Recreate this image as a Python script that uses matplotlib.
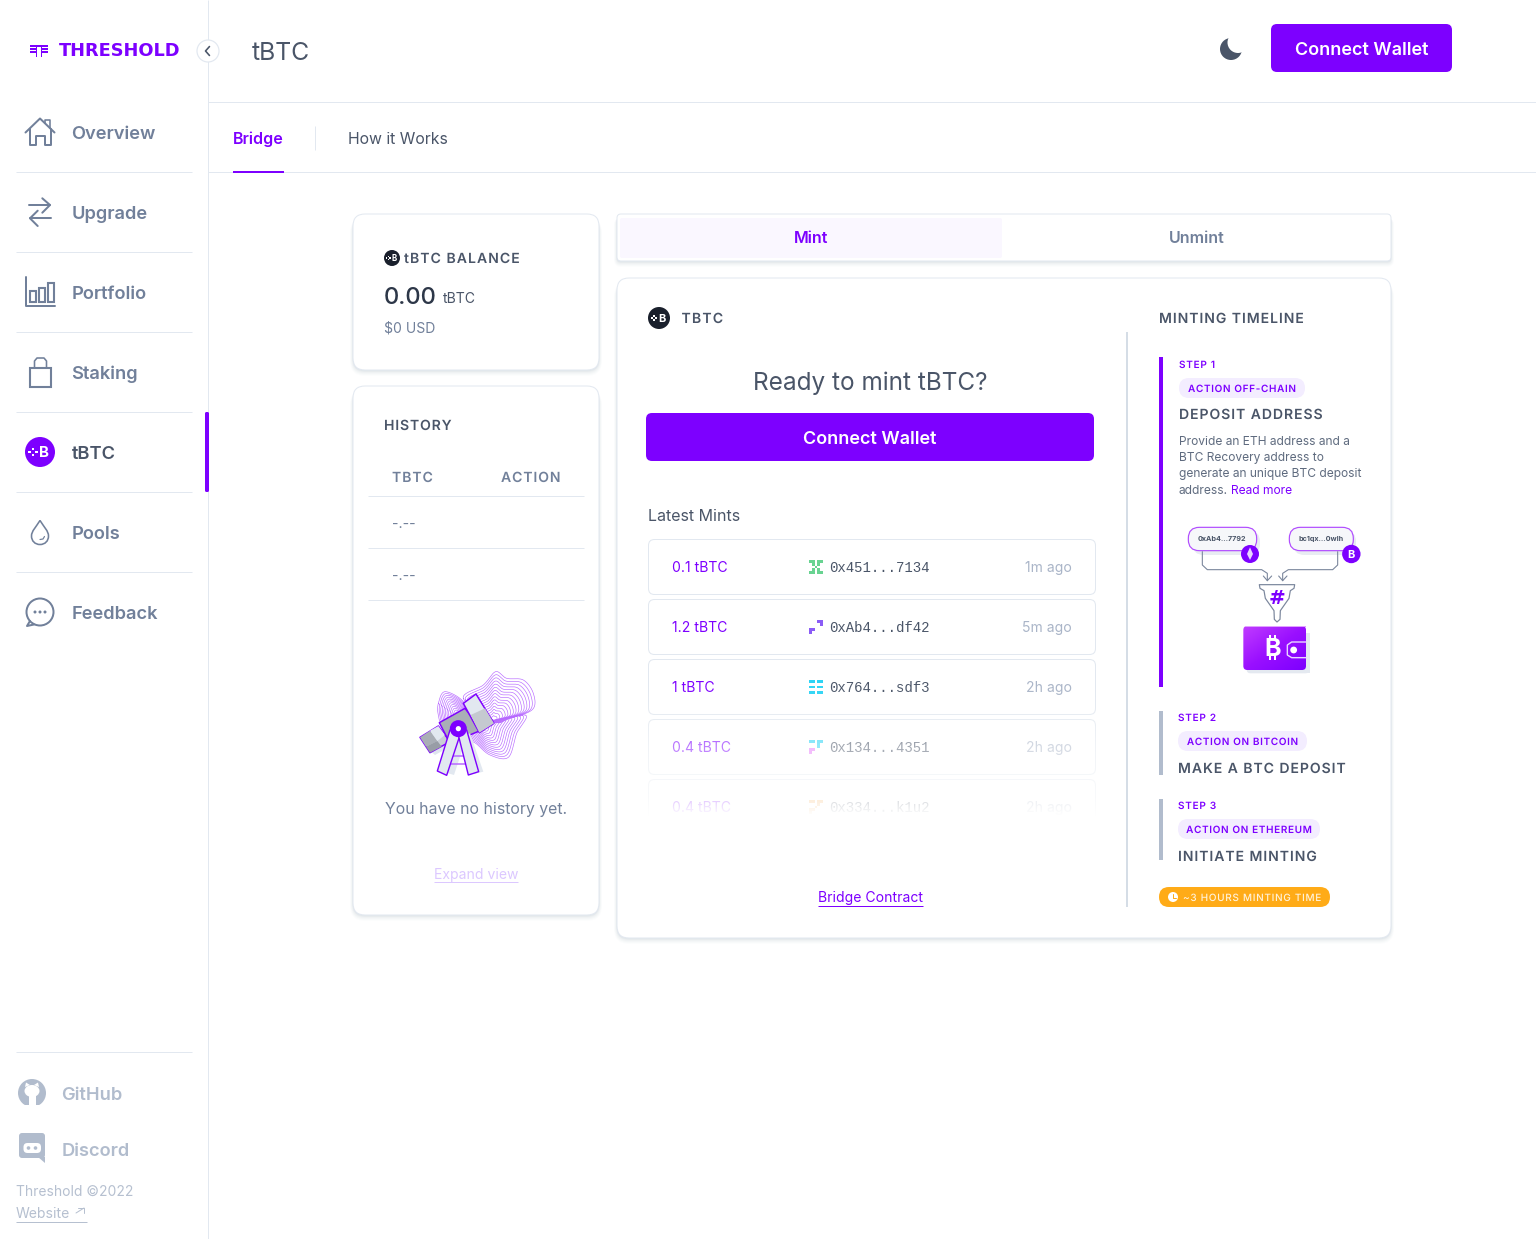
import numpy as np
import matplotlib
matplotlib.use("Agg")
import matplotlib.pyplot as plt
from matplotlib.colors import to_rgba
from matplotlib.font_manager import findfont, get_font
from matplotlib.ft2font import LoadFlags
from matplotlib.patches import FancyBboxPatch, Circle, Ellipse, Polygon, PathPatch, Rectangle
from matplotlib.path import Path
from matplotlib.text import Text
from matplotlib.textpath import TextPath
from matplotlib.transforms import Affine2D, Bbox
from matplotlib.colors import LinearSegmentedColormap

# page content
NAV_LABELS = ["Overview", "Upgrade", "Portfolio", "Staking", "tBTC", "Pools", "Feedback"]
TABS = ["Bridge", "How it Works"]
MINT_AMOUNTS = ["0.1 tBTC", "1.2 tBTC", "1 tBTC", "0.4 tBTC", "0.4 tBTC"]
MINT_ADDRESSES = ["0x451...7134", "0xAb4...df42", "0x764...sdf3", "0x134...4351", "0x334...k1u2"]
MINT_TIMES = ["1m ago", "5m ago", "2h ago", "2h ago", "2h ago"]
STEP_NAMES = ["STEP 1", "STEP 2", "STEP 3"]
STEP_ACTIONS = ["ACTION OFF-CHAIN", "ACTION ON BITCOIN", "ACTION ON ETHEREUM"]
STEP_TITLES = ["DEPOSIT ADDRESS", "MAKE A BTC DEPOSIT", "INITIATE MINTING"]
STEP_TEXT = ["Provide an ETH address and a", "BTC Recovery address to",
             "generate an unique BTC deposit", "address."]
IDENTICONS = [
    ["11.11", ".1.1.", "..1..", ".1.1.", "11.11"],
    ["...11", "....1", ".....", "11...", "1...."],
    ["11.11", ".....", "11.11", ".....", "11.11"],
    ["11.11", "...1.", "...1.", "22...", "2...."],
    ["11.11", "...1.", "..1..", "11...", "1...."],
]
IDENTICON_COLORS = [("#68d391", None), ("#8b5cf6", None), ("#2dd4f5", None),
                    ("#2dd4f5", "#e879f9"), ("#f6ad55", None)]

PURPLE = "#7d00ff"
BORDER = "#e2e8f0"
GRAY_800 = "#2d3748"
GRAY_700 = "#4a5568"
GRAY_500 = "#71809a"
GRAY_300 = "#b1bccd"
PILL = "#f3edff"

fig = plt.figure(figsize=(15.36, 12.39), dpi=100, facecolor="white")
ax = fig.add_axes([0, 0, 1, 1])
ax.set_xlim(0, 1536)
ax.set_ylim(1239, 0)
ax.axis("off")

z = [1]


def nz():
    z[0] += 1
    return z[0]


class SpacedText(Text):
    # one text artist with css style letter spacing, matplotlib has no option for it.
    # glyphs go through paths since agg rounds text positions to whole pixels
    def __init__(self, *args, spacing=0.0, **kwargs):
        super().__init__(*args, **kwargs)
        self.spacing = spacing

    def _advances(self):
        font = get_font(findfont(self.get_fontproperties()))
        font.set_size(self.get_fontsize(), self.get_figure().dpi)
        return [font.load_char(ord(c), flags=LoadFlags.NO_HINTING).linearHoriAdvance / 65536 + self.spacing
                for c in self.get_text()]

    def _start(self, total):
        x, _ = self.get_transform().transform((self._x, self._y))
        return x - total / 2 if self.get_ha() == "center" else x

    def draw(self, renderer):
        if not self.get_visible():
            return
        adv = self._advances()
        x = self._start(sum(adv) - self.spacing)
        _, y = self.get_transform().transform((self._x, self._y))
        scale = self.get_figure().dpi / 72
        gc = renderer.new_gc()
        gc.set_linewidth(0)
        gc.set_antialiased(True)
        gc.set_snap(False)
        face = to_rgba(self.get_color())
        for ch, a in zip(self.get_text(), adv):
            if ch != " ":
                glyph = TextPath((0, 0), ch, size=self.get_fontsize(), prop=self.get_fontproperties())
                renderer.draw_path(gc, glyph, Affine2D().scale(scale).translate(x, y), face)
            x += a
        gc.restore()

    def get_window_extent(self, renderer=None, dpi=None):
        box = super().get_window_extent(renderer, dpi)
        total = sum(self._advances()) - self.spacing
        x0 = self._start(total)
        return Bbox([[x0, box.y0], [x0 + total, box.y1]])


def txt(x, y, s, size=14, color=GRAY_700, weight="normal", ha="left", family="Inter", spacing=0.0):
    # size is in css pixels, y is the baseline
    kw = dict(fontsize=size * 0.72, color=color, fontweight=weight, ha=ha, va="baseline",
              family=family, zorder=nz())
    if spacing:
        return ax.add_artist(SpacedText(x, y, s, spacing=spacing, **kw))
    return ax.text(x, y, s, **kw)


def line(xs, ys, color=BORDER, lw=1.0, cap="round", join="round"):
    ax.plot(xs, ys, color=color, lw=lw * 0.72, solid_capstyle=cap, solid_joinstyle=join, zorder=nz())


def rbox(x0, y0, x1, y1, r=4, fc="white", ec="none", lw=1.0):
    p = FancyBboxPatch((x0, y0), x1 - x0, y1 - y0, boxstyle=f"round,pad=0,rounding_size={r}",
                       fc=fc, ec=ec, lw=lw * 0.72, zorder=nz())
    ax.add_patch(p)
    return p


def rect(x0, y0, x1, y1, fc):
    ax.add_patch(Rectangle((x0, y0), x1 - x0, y1 - y0, fc=fc, ec="none", lw=0, zorder=nz()))


def circ(x, y, r, fc="none", ec="none", lw=1.0):
    ax.add_patch(Circle((x, y), r, fc=fc, ec=ec, lw=lw * 0.72, zorder=nz()))


def poly(pts, fc="none", ec="none", lw=1.0):
    ax.add_patch(Polygon(pts, closed=True, fc=fc, ec=ec, lw=lw * 0.72, joinstyle="round", zorder=nz()))


def card(x0, y0, x1, y1, r=12):
    # soft drop shadow mostly below the card
    for grow, a in [(5.0, 0.025), (4.0, 0.035), (3.0, 0.045), (2.0, 0.055), (1.0, 0.07), (0.3, 0.08)]:
        ax.add_patch(FancyBboxPatch((x0 - grow * 0.6, y0 + 4), x1 - x0 + 1.2 * grow, y1 - y0 - 3 + grow,
                                    boxstyle=f"round,pad=0,rounding_size={r + grow * 0.6}",
                                    fc="#a0aec0", ec="none", alpha=a, zorder=nz()))
    rbox(x0, y0, x1, y1, r=r, fc="white", ec=BORDER, lw=1.0)


def bezier_patch(verts, codes, fc="none", ec="none", lw=1.0):
    ax.add_patch(PathPatch(Path(verts, codes), fc=fc, ec=ec, lw=lw * 0.72, zorder=nz()))


def btc_badge(x, y, r, fc, size, dots=True):
    circ(x, y, r, fc=fc)
    if dots:
        txt(x + r * 0.3, y + size * 0.36, "B", size=size, color="white", weight="bold", ha="center")
        s = r * 0.09
        for dx, dy in [(-0.68, 0), (-0.46, -0.2), (-0.46, 0.2), (-0.24, 0)]:
            rect(x + dx * r - s, y + dy * r - s, x + dx * r + s, y + dy * r + s, "white")
    else:
        txt(x, y + size * 0.36, "B", size=size, color="white", weight="bold", ha="center")


def identicon(x, y, grid, colors, cell=2.8):
    for j, row in enumerate(grid):
        for i, c in enumerate(row):
            if c != ".":
                rect(x + i * cell, y + j * cell, x + (i + 1) * cell, y + (j + 1) * cell, colors[int(c) - 1])


def closed_curve(pts, n=24):
    # catmull-rom through a hand placed outline
    pts = np.array(pts, dtype=float)
    out = []
    m = len(pts)
    for i in range(m):
        p0, p1, p2, p3 = pts[i - 1], pts[i], pts[(i + 1) % m], pts[(i + 2) % m]
        for t in np.linspace(0, 1, n, endpoint=False):
            out.append(0.5 * (2 * p1 + (p2 - p0) * t + (2 * p0 - 5 * p1 + 4 * p2 - p3) * t ** 2
                              + (3 * p1 - p0 - 3 * p2 + p3) * t ** 3))
    out.append(out[0])
    return np.array(out)


# ---- frame lines
line([208, 208], [0, 1239], cap="butt")
line([208, 1536], [102, 102], cap="butt")
line([208, 1536], [172, 172], cap="butt")

# ---- logo
for yy in (45, 48, 51):
    rect(30, yy, 37, yy + 1.6, PURPLE)
    rect(42, yy, 48, yy + 1.6, PURPLE)
rect(35.5, 45, 37, 57, PURPLE)
rect(40.5, 45, 42, 57, PURPLE)
rect(37, 45, 40.5, 47, PURPLE)
txt(59, 56, "THRESHOLD", size=17.8, color=PURPLE, weight="bold", family="DejaVu Sans")

# collapse button
circ(208, 51, 11, fc="white", ec=BORDER, lw=1.2)
line([209.5, 205.5, 209.5], [46.5, 51, 55.5], color=GRAY_700, lw=1.6)

# ---- sidebar nav
for i, label in enumerate(NAV_LABELS):
    active = label == "tBTC"
    txt(71.5, 139 + 80 * i, label, size=18.3, color=GRAY_700 if active else GRAY_500, weight="semibold")
    if i < len(NAV_LABELS) - 1:
        line([16, 192], [172 + 80 * i] * 2, cap="butt")
rbox(205, 412, 209, 492, r=1.5, fc=PURPLE)

# house
ic = GRAY_500
line([25.5, 40, 54.5], [132.5, 118.5, 132.5], color=ic, lw=2)
line([29.5, 29.5, 36, 36, 44.5, 44.5, 51, 51], [129, 145, 145, 135.5, 135.5, 145, 145, 129], color=ic, lw=2)
line([45, 45, 49.5, 49.5], [123, 119.5, 119.5, 128], color=ic, lw=1.6)
# arrows
line([29, 50], [205, 205], color=ic, lw=2)
line([42.3, 50, 42.3], [198.3, 205, 212.7], color=ic, lw=2)
line([30, 51], [218.3, 218.3], color=ic, lw=2)
line([37.7, 30, 37.7], [210.7, 218.3, 226], color=ic, lw=2)
# bars
line([25.5, 25.5, 55], [277, 306, 306], color=ic, lw=2)
for x0, y0 in [(29.5, 291), (38.5, 288), (47.5, 283)]:
    ax.add_patch(Rectangle((x0, y0), 6, 302 - y0, fc="none", ec=ic, lw=1.5, zorder=nz()))
# lock
ax.add_patch(Rectangle((30, 368), 21, 19, fc="none", ec=ic, lw=1.5, zorder=nz()))
line([34.5, 34.5, 37, 44, 46.5, 46.5], [368, 361, 358, 358, 361, 368], color=ic, lw=1.6)
# tbtc badge
btc_badge(40, 452, 15, PURPLE, 15)
# drop
bezier_patch([(40, 520.5), (36, 527), (31.5, 531), (31.5, 536), (31.5, 541), (35, 544.5), (40, 544.5),
              (45, 544.5), (48.5, 541), (48.5, 536), (48.5, 531), (44, 527), (40, 520.5)],
             [Path.MOVETO] + [Path.CURVE4] * 12, ec=ic, lw=1.6)
line([40, 43, 44.5], [539.5, 539, 536.5], color=ic, lw=1.2)
# chat bubble
circ(40, 612, 13.5, fc="white", ec=ic, lw=2)
line([30, 27, 34], [621, 626, 624.5], color=ic, lw=2)
for dx_ in (-5, 0, 5):
    circ(40 + dx_, 612, 1.5, fc=ic)

# ---- sidebar footer
line([16, 192], [1052, 1052], cap="butt")
txt(61.5, 1100, "GitHub", size=18.3, color=GRAY_300, weight="semibold")
txt(62, 1156, "Discord", size=18.3, color=GRAY_300, weight="semibold")
circ(32, 1093, 14, fc=GRAY_300)
ax.add_patch(Ellipse((32, 1091), 15, 12, fc="white", ec="none", zorder=nz()))
poly([(25, 1087), (26, 1082.5), (30, 1085)], fc="white")
poly([(39, 1087), (38, 1082.5), (34, 1085)], fc="white")
rect(28.5, 1095, 35.5, 1107, "white")
rect(18, 1105, 46, 1108, "white")
rbox(19, 1133, 45, 1158, r=3, fc=GRAY_300)
poly([(38, 1157), (45, 1157), (45, 1163)], fc=GRAY_300)
rbox(23.5, 1143, 41, 1153, r=4, fc="white")
circ(28.5, 1148, 1.8, fc=GRAY_300)
circ(35.5, 1148, 1.8, fc=GRAY_300)
txt(16, 1196, "Threshold ©2022", size=13.9, color="#b6c0d0")
txt(16, 1218, "Website", size=14, color="#b6c0d0")
line([76, 84], [1213, 1208], color="#b6c0d0", lw=1)
line([78, 84, 84], [1208, 1208, 1213], color="#b6c0d0", lw=1)
line([16, 87], [1221.5, 1221.5], color="#b6c0d0", lw=1, cap="butt")

# ---- header
txt(252, 59.5, "tBTC", size=24.8, color=GRAY_700)
circ(1231, 49, 11, fc=GRAY_700)
circ(1238, 42.5, 10.5, fc="white")
rbox(1271, 24, 1452, 72, r=6, fc=PURPLE)
txt(1361.5, 55, "Connect Wallet", size=18, color="white", weight="semibold", ha="center")

# ---- tabs
txt(233, 144, TABS[0], size=16, color=PURPLE, weight="semibold")
txt(348, 144, TABS[1], size=15.8, color=GRAY_700)
line([315, 315], [126, 150], cap="butt")
rect(233, 171, 284, 173, PURPLE)

# ---- balance card
card(353, 214, 599, 370)
btc_badge(392, 258, 8, "#1a202c", 8)
txt(404, 263, "tBTC BALANCE", size=14, weight="semibold", spacing=1.05)
txt(384, 304, "0.00", size=23.8, color=GRAY_800, weight="medium")
txt(443, 303, "tBTC", size=14, color=GRAY_700)
txt(384, 333, "$0 USD", size=14, color=GRAY_500)

# ---- history card
card(353, 386, 599, 915)
txt(384, 430, "HISTORY", size=14, weight="semibold", spacing=0.85)
txt(392, 482, "TBTC", size=14, weight="semibold", color=GRAY_500, spacing=0.95)
txt(501, 482, "ACTION", size=14, weight="semibold", color=GRAY_500, spacing=0.9)
for yy in (496, 548, 600):
    line([368, 584], [yy, yy], cap="butt")
txt(392, 528, "-.--", size=14, color=GRAY_500)
txt(392, 580, "-.--", size=14, color=GRAY_500)


# telescope illustration, drawn in the coordinates of a 3x crop
def zx(v):
    return 350 + v / 3


def zy(v):
    return 640 + v / 3


def zp(pts):
    return [(zx(a), zy(b)) for a, b in pts]


waves = [
    ([(340, 175), (400, 135), (437, 95), (470, 115), (520, 120), (550, 160), (548, 208), (480, 235), (430, 245)],
     (430, 240)),
    ([(525, 225), (500, 280), (475, 352), (420, 345), (380, 312), (352, 290), (400, 255)], (395, 250)),
    ([(265, 190), (285, 155), (340, 185), (350, 240), (280, 250), (265, 225)], (335, 240)),
]
for outline, center in waves:
    curve = closed_curve(outline)
    center = np.array(center, dtype=float)
    for k in np.arange(1.0, 0.08, -0.065):
        pts = center + (curve - center) * k
        ax.plot(zx(pts[:, 0]), zy(pts[:, 1]), color="#b768ff", lw=0.45, zorder=nz())

poly(zp([(225, 320), (255, 345), (300, 320), (270, 285)]), fc="#dfe5ee")
poly(zp([(210, 292), (265, 258), (300, 305), (240, 338)]), fc="#c9ced6", ec=PURPLE, lw=1.5)
poly(zp([(210, 292), (240, 272), (262, 303), (228, 320)]), fc="#a9aeb6")
poly(zp([(228, 320), (262, 303), (275, 320), (240, 338)]), fc="#989da6")
poly(zp([(240, 272), (265, 258), (285, 285), (262, 303)]), fc="#e2e8f0")
poly(zp([(268, 248), (345, 205), (395, 270), (300, 310)]), fc="#a9aeb6", ec=PURPLE, lw=1.5)
poly(zp([(340, 190), (378, 162), (432, 250), (388, 278)]), fc="#e2e8f0", ec=PURPLE, lw=1.5)
poly(zp([(362, 225), (405, 205), (432, 250), (388, 278)]), fc="#c5c9d0")
poly(zp([(278, 395), (312, 405), (350, 290), (320, 280)]), fc="#e2e8f0")
poly(zp([(372, 402), (400, 395), (360, 280), (340, 285)]), fc="#e2e8f0")
line([zx(300), zx(350)], [zy(348), zy(348)], color="#b768ff", lw=1.5)
line([zx(300), zx(352)], [zy(372), zy(372)], color="#b768ff", lw=1.5)
poly(zp([(300, 270), (262, 393), (290, 406), (330, 285)]), fc="#e2e8f0", ec=PURPLE, lw=1.4)
poly(zp([(325, 285), (355, 405), (386, 395), (350, 270)]), fc="#e2e8f0", ec=PURPLE, lw=1.4)
circ(zx(325), zy(266), 8.5, fc=PURPLE)
circ(zx(325), zy(266), 2.6, fc="white")

txt(476, 814, "You have no history yet.", size=15.9, color=GRAY_500, ha="center")
txt(476, 879, "Expand view", size=14, color="#dcc8ff", ha="center")
line([434, 518], [882, 882], color="#dcc8ff", lw=1, cap="butt")

# ---- mint / unmint tabs
card(617, 214, 1391, 261, r=4)
rbox(620, 218, 1002, 258, r=2, fc="#faf7ff")
txt(811, 243, "Mint", size=16, color=PURPLE, weight="semibold", ha="center")
txt(1197, 243, "Unmint", size=16, color=GRAY_500, weight="semibold", ha="center")

# ---- main card
card(617, 278, 1391, 938)
btc_badge(659, 318, 11, "#1a202c", 11)
txt(681.5, 323, "TBTC", size=14, weight="semibold", spacing=1.2)
txt(870, 390, "Ready to mint tBTC?", size=24.3, ha="center")
rbox(646, 413, 1094, 461, r=6, fc=PURPLE)
txt(870, 444, "Connect Wallet", size=18, color="white", weight="semibold", ha="center")
txt(648, 521, "Latest Mints", size=16)

# mint rows, the fade comes from the white gradient on top
for i in range(len(MINT_AMOUNTS)):
    top = 539.5 + 60 * i
    rbox(648.5, top, 1095.5, top + 55, r=6, fc="white", ec=BORDER, lw=1.0)
    txt(672, top + 32.5, MINT_AMOUNTS[i], size=14, color=PURPLE)
    colors = [c for c in IDENTICON_COLORS[i] if c]
    identicon(809, top + 20.5, IDENTICONS[i], colors)
    txt(829.4, top + 32, MINT_ADDRESSES[i], size=14, color=GRAY_700, family="Liberation Mono")
    txt(1072, top + 32.5, MINT_TIMES[i], size=14, color="#aab5c8", ha="right")

fade_levels = np.array([0.0, 0.1, 0.5, 0.8, 1.0, 1.0])
fade_stops = np.array([0.0, 0.15, 0.42, 0.75, 0.85, 1.0])
fade = LinearSegmentedColormap.from_list(
    "fade", [(s, (1, 1, 1, a)) for s, a in zip(fade_stops, fade_levels)])
ax.imshow(np.linspace(0, 1, 256).reshape(-1, 1), extent=(640, 1105, 840, 680), cmap=fade,
          aspect="auto", zorder=nz(), interpolation="bilinear")
ax.set_xlim(0, 1536)
ax.set_ylim(1239, 0)

txt(870, 902, "Bridge Contract", size=14, color=PURPLE, ha="center")
line([818, 922.5], [905.5, 905.5], color=PURPLE, lw=1, cap="butt")
line([1127, 1127], [332, 907], color="#cbd5e0", lw=1.6, cap="butt")

# ---- timeline
txt(1159, 323, "MINTING TIMELINE", size=14, weight="semibold", spacing=0.95)
rect(1159, 357, 1163, 687, PURPLE)
rect(1159, 711, 1163, 775, GRAY_300)
rect(1159, 799, 1163, 860, GRAY_300)

step_x = [1179, 1178, 1178]
step_base = [368, 721, 809]
pill_end = [1305, 1307, 1320]
title_base = [419, 773, 861]
for i in range(3):
    b = step_base[i]
    txt(step_x[i], b, STEP_NAMES[i], size=10, color=PURPLE, weight="semibold", spacing=0.75)
    rbox(step_x[i], b + 10, pill_end[i], b + 30, r=10, fc=PILL)
    txt((step_x[i] + pill_end[i]) / 2, b + 24, STEP_ACTIONS[i], size=10, color=PURPLE,
        weight="semibold", ha="center", spacing=0.65)
    txt(step_x[i], title_base[i], STEP_TITLES[i], size=14, weight="semibold", spacing=0.95)

for i, s in enumerate(STEP_TEXT):
    txt(1178.7, 445 + 16.2 * i, s, size=12, color="#5f6b7f")
txt(1231, 494, "Read more", size=12, color=PURPLE)


# deposit diagram, also from a 3x crop
def dx(v):
    return 1150 + v / 3


def dy(v):
    return 340 + v / 3


# pills
rbox(dx(128), dy(572), dx(330), dy(645), r=11, fc="#e8ecf2")
rbox(dx(430), dy(572), dx(618), dy(645), r=11, fc="#e8ecf2")
rbox(dx(115), dy(562), dx(320), dy(632), r=11, fc="#f6f7fa", ec="#b14dff", lw=1.2)
rbox(dx(418), dy(562), dx(610), dy(632), r=11, fc="#f6f7fa", ec="#b14dff", lw=1.2)
txt(dx(217), dy(604), "0xAb4...7792", size=7.2, color=GRAY_700, weight="bold", ha="center")
txt(dx(514), dy(604), "bc1qx...0wlh", size=7.2, color=GRAY_700, weight="bold", ha="center")
circ(dx(300), dy(642), 9, fc=PURPLE)
poly([(dx(300), dy(622)), (dx(309), dy(642)), (dx(300), dy(660)), (dx(291), dy(642))], fc="#e9d5ff")
btc_badge(dx(604), dy(642), 9.2, PURPLE, 11, dots=False)
# connectors
lc = "#7a869c"
line([dx(157), dx(157), dx(172), dx(335), dx(352), dx(352)],
     [dy(635), dy(675), dy(689), dy(689), dy(700), dy(722)], color=lc, lw=1.1)
line([dx(563), dx(563), dx(548), dx(415), dx(398), dx(398)],
     [dy(635), dy(675), dy(689), dy(689), dy(700), dy(722)], color=lc, lw=1.1)
line([dx(340), dx(352), dx(365)], [dy(708), dy(722), dy(708)], color=lc, lw=1.1)
line([dx(386), dx(398), dx(411)], [dy(708), dy(722), dy(708)], color=lc, lw=1.1)
# funnel with a flat rim and curved shoulders
poly([(dx(328), dy(734)), (dx(434), dy(734)), (dx(432), dy(745)), (dx(421), dy(752)), (dx(417), dy(775)),
      (dx(391), dy(812)), (dx(390), dy(838)), (dx(381), dy(846)), (dx(373), dy(838)), (dx(372), dy(812)),
      (dx(346), dy(775)), (dx(342), dy(752)), (dx(330), dy(745))],
     fc="white", ec=lc, lw=1.2)
txt(dx(381), dy(792), "#", size=20, color=PURPLE, weight="bold", ha="center", family="DejaVu Sans")
# wallet
rect(dx(468), dy(880), dx(480), dy(1000), "#e4e9f0")
rbox(dx(290), dy(960), dx(478), dy(1000), r=4, fc="#e4e9f0")
clip = rbox(dx(280), dy(858), dx(468), dy(990), r=4, fc="none")
grad = LinearSegmentedColormap.from_list("wallet", ["#c03cff", "#9a10ff", PURPLE])
u, v = np.meshgrid(np.linspace(0, 1, 64), np.linspace(0, 1, 64))
im = ax.imshow((u + v) / 2, extent=(dx(280), dx(468), dy(990), dy(858)), cmap=grad,
               aspect="auto", zorder=nz())
im.set_clip_path(clip)
ax.set_xlim(0, 1536)
ax.set_ylim(1239, 0)
rect(dx(284), dy(859), dx(468), dy(862), "#e0a0ff")
txt(dx(369), dy(949), "B", size=25, color="white", weight="bold", ha="center")
for xb in (358, 373):
    rect(dx(xb), dy(886), dx(xb + 5), dy(900), "white")
    rect(dx(xb), dy(945), dx(xb + 5), dy(960), "white")
line([dx(468), dx(425), dx(412), dx(412), dx(425), dx(468)],
     [dy(906), dy(906), dy(915), dy(945), dy(953), dy(953)], color="#ead6ff", lw=1.4)
circ(dx(431), dy(930), 3.4, fc="white")

# minting time pill
rbox(1159, 887, 1330, 907, r=10, fc="#ffab17")
circ(1173, 897, 5, fc="white")
line([1173, 1173, 1175.5], [894, 897.5, 897.5], color="#ffab17", lw=1)
txt(1183, 901, "~3 HOURS MINTING TIME", size=10, color="#fff3dc", weight="medium", spacing=0.7)

fig.savefig("out.png", dpi=100, facecolor="white")
